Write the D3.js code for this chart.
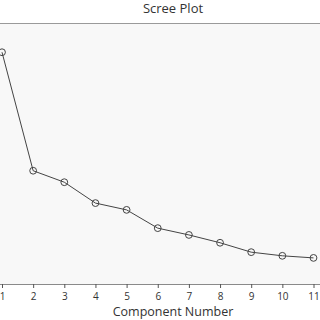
<!DOCTYPE html>
<html><head><meta charset="utf-8">
<script src="https://cdn.jsdelivr.net/npm/d3@7"></script>
<style>html,body{margin:0;padding:0;background:#fff;}svg{display:block;}</style>
</head><body>
<script>
const components = [1,2,3,4,5,6,7,8,9,10,11];
const eigenvalues = [4.44,2.17,1.95,1.55,1.42,1.07,0.94,0.79,0.61,0.54,0.50];
const titleText = "Scree Plot";
const xLabel = "Component Number";

(function () {
const W = 320, H = 320;
const svg = d3.select("body").append("svg").attr("width", W).attr("height", H);
const plotTop = 23, plotBottom = 284;
const x = d3.scaleLinear().domain([1, 11]).range([2, 313.5]);
const y = d3.scaleLinear().domain([0, 5]).range([plotBottom, plotTop]);

svg.append("rect").attr("x", 0).attr("y", plotTop).attr("width", W).attr("height", plotBottom - plotTop).attr("fill", "#f8f8f8");
svg.append("line").attr("x1", 0).attr("x2", W).attr("y1", plotTop + 0.5).attr("y2", plotTop + 0.5).attr("stroke", "#9a9a9a").attr("stroke-width", 1);

const ax = svg.append("g").attr("transform", `translate(0,${plotBottom})`)
  .call(d3.axisBottom(x).tickValues(components).tickFormat(d3.format("d")).tickSize(4).tickSizeOuter(0));
ax.select(".domain").attr("stroke", "#8a8a8a").attr("d", `M0,0.5H${W}`);
ax.selectAll(".tick line").attr("stroke", "#555");
ax.selectAll(".tick text").attr("font-family", "Open Sans, sans-serif").attr("font-size", 10).attr("fill", "#333").attr("dy", "0.9em");

svg.append("path").datum(components.map((c, i) => [c, eigenvalues[i]]))
  .attr("d", d3.line().x(d => x(d[0])).y(d => y(d[1])))
  .attr("fill", "none").attr("stroke", "#444").attr("stroke-width", 1);

svg.selectAll("circle.pt").data(components).enter().append("circle")
  .attr("class", "pt").attr("cx", d => x(d)).attr("cy", (d, i) => y(eigenvalues[i]))
  .attr("r", 3.4).attr("fill", "none").attr("stroke", "#444").attr("stroke-width", 1);

svg.append("text").attr("x", 173).attr("y", 13).attr("text-anchor", "middle")
  .attr("font-family", "Open Sans, sans-serif").attr("font-size", 13).attr("fill", "#333").text(titleText);
svg.append("text").attr("x", 173).attr("y", 316).attr("text-anchor", "middle")
  .attr("font-family", "Open Sans, sans-serif").attr("font-size", 12.5).attr("fill", "#333").text(xLabel);
})();
</script>
</body></html>
